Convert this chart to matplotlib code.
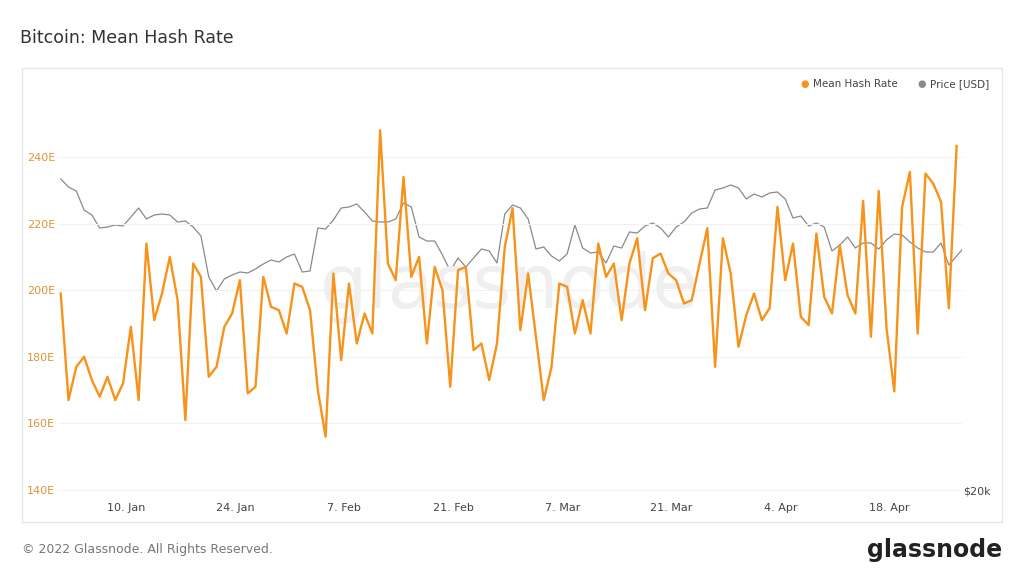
import matplotlib
matplotlib.use("Agg")
import matplotlib.pyplot as plt
from matplotlib.patches import Rectangle

hash_rate = [199,167,177,180,173,168,174,167,172,189,167,214,191,199,210,197,161,208,204,174,177,189,193,203,169,171,204,195,194,187,202,201,194,170,156,205,179,202,
             184,193,187,248,208,203,234,204,210,184,207,200,171,206,207,182,184,173,184,213,224.6,188,205,186,167,177,202,201,187,197,187,214,204,208,191,208,215.6,194,209.6,211,
             205,203,196,197,208,218.6,177,215.6,205,183,192.5,199,191,194.6,225,203,214,192,189.5,217,198,193,213.5,198.5,193,226.8,186,229.8,188.6,169.6,225,235.5,187,235,232,226.5,194.6,243.3]
price_k = [47.1,46.3,45.9,44,43.5,42.2,42.3,42.5,42.4,43.3,44.2,43.1,43.5,43.6,43.5,42.8,42.9,42.3,41.4,37.3,35.9,37.1,37.5,37.8,37.7,38.1,38.6,39,38.8,39.3,39.6,37.8,37.9,42.2,42.1,43,44.2,44.3,
           44.6,43.8,42.9,42.8,42.8,43.1,44.7,44.3,41.3,40.9,40.9,39.5,37.9,39.2,38.3,39.2,40.1,39.9,38.7,43.6,44.5,44.2,43.1,40.1,40.3,39.4,38.9,39.6,42.5,40.2,39.7,39.8,38.7,40.4,40.2,41.8,41.7,42.4,42.7,42.2,
           41.3,42.3,42.8,43.7,44.1,44.2,46,46.2,46.5,46.2,45.1,45.6,45.3,45.7,45.8,45.1,43.2,43.4,42.4,42.7,42.3,39.9,40.5,41.3,40.2,40.7,40.7,40.1,41,41.6,41.5,40.8,40.2,39.8,39.8,40.7,38.5,39.4,40.3]
x_tick_days = [8.4, 22.4, 36.4, 50.4, 64.4, 78.4, 92.4, 106.4]
x_tick_labels = ["10. Jan", "24. Jan", "7. Feb", "21. Feb", "7. Mar", "21. Mar", "4. Apr", "18. Apr"]
y_ticks = [140, 160, 180, 200, 220, 240]
y_tick_labels = ["140E", "160E", "180E", "200E", "220E", "240E"]

W, H = 1024, 576
fig = plt.figure(figsize=(W/100, H/100), dpi=100)
fig.patch.set_facecolor("white")
fig.add_artist(Rectangle((22/W, 1-522/H), 980/W, 454/H, transform=fig.transFigure,
                         fill=False, edgecolor="#e6e6e6", lw=1))
fig.text(20/W, 1-38/H, "Bitcoin: Mean Hash Rate", fontsize=12.5, color="#333333", va="center")
fig.text(22/W, 1-550/H, "© 2022 Glassnode. All Rights Reserved.", fontsize=9, color="#777777", va="center")
fig.text(1002/W, 1-550/H, "glassnode", fontsize=17, color="#222222", va="center", ha="right", fontweight="semibold")

ax = fig.add_axes([58/W, 1-497/H, 904/W, 402/H])
ax.set_facecolor("none")
days_h = list(range(len(hash_rate)))
days_p = list(range(len(price_k)))
ax2 = ax.twinx()
ax2.plot(days_p, price_k, color="#8a8a8a", lw=0.9, zorder=1)
ax2.set_ylim(15.3, 55.5)
ax2.axis("off")
ax.set_zorder(ax2.get_zorder() + 1)
ax.plot(days_h, hash_rate, color="#f7931a", lw=1.7, zorder=3)
ax.set_xlim(-0.35, 115.69)
ax2.set_xlim(-0.35, 115.69)
ax.set_ylim(137.9, 258.6)
for t in y_ticks:
    ax.axhline(t, color="#f2f2f2", lw=0.8, zorder=0)
ax.set_yticks(y_ticks)
ax.set_yticklabels(y_tick_labels, color="#e0933c", fontsize=8)
ax.set_xticks(x_tick_days)
ax.set_xticklabels(x_tick_labels, color="#444444", fontsize=8)
ax.tick_params(length=0, pad=4)
ax.tick_params(axis="y", pad=2)
for s in ax.spines.values():
    s.set_visible(False)
ax.text(0.5, 0.52, "glassnode", transform=ax.transAxes, fontsize=54, color="#efefef",
        ha="center", va="center", zorder=0)
fig.text(977/W, 1-491/H, "$20k", fontsize=8, color="#444444", ha="center", va="center")
# legend
fig.text(805/W, 1-84/H, "●", color="#f7931a", fontsize=7, ha="center", va="center")
fig.text(813/W, 1-84/H, "Mean Hash Rate", color="#444444", fontsize=7.5, va="center")
fig.text(922/W, 1-84/H, "●", color="#8a8a8a", fontsize=7, ha="center", va="center")
fig.text(930/W, 1-84/H, "Price [USD]", color="#444444", fontsize=7.5, va="center")
fig.savefig("out.png", dpi=100)
